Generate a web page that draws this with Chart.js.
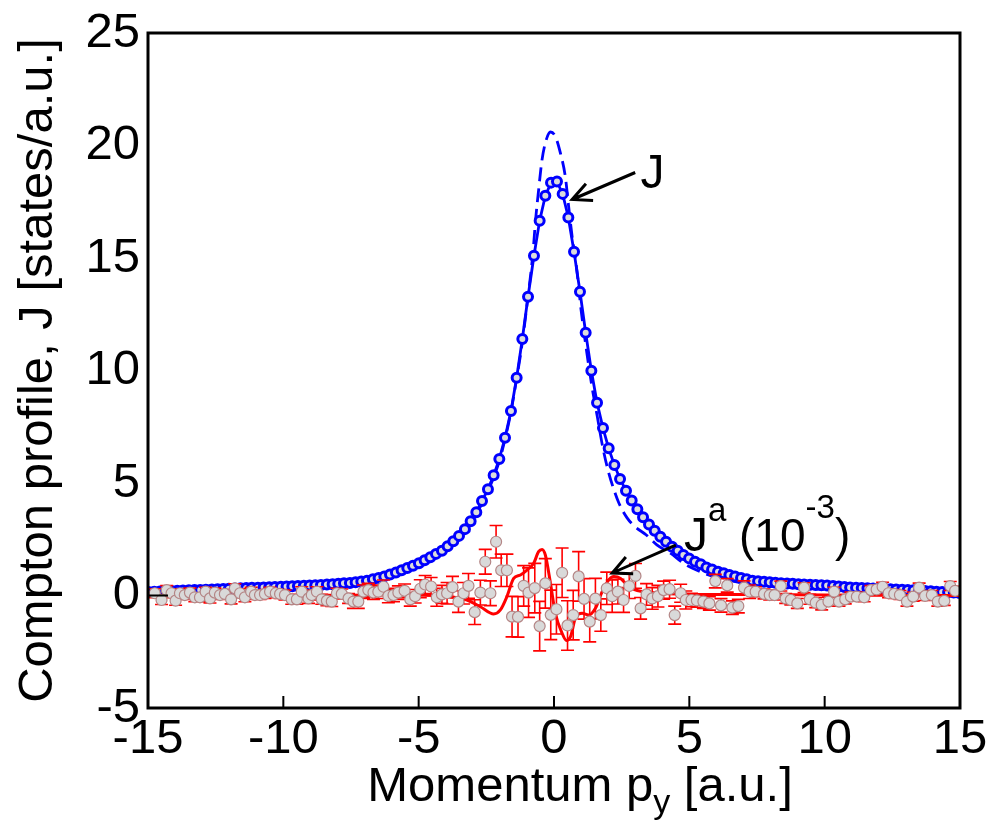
<!DOCTYPE html>
<html>
<head>
<meta charset="utf-8">
<title>Compton profile</title>
<script src="https://cdn.jsdelivr.net/npm/chart.js@4.4.0/dist/chart.umd.min.js"></script>
<style>
  body { margin: 0; background: #fff; }
  #chart { display: block; }
</style>
</head>
<body>
<canvas id="chart" width="1000" height="840"></canvas>
<script>
// momentum grid of the measured profile J (blue circles)
const momentum = [
  -14.98, -14.77, -14.56, -14.34, -14.13, -13.92, -13.71, -13.49, -13.28, -13.07,
  -12.86, -12.64, -12.43, -12.22, -12.01, -11.79, -11.58, -11.37, -11.16, -10.94,
  -10.73, -10.52, -10.31, -10.09, -9.88, -9.67, -9.46, -9.24, -9.03, -8.82,
  -8.61, -8.39, -8.18, -7.97, -7.76, -7.54, -7.33, -7.12, -6.91, -6.69,
  -6.48, -6.27, -6.06, -5.84, -5.63, -5.42, -5.21, -4.99, -4.78, -4.57,
  -4.36, -4.14, -3.93, -3.72, -3.51, -3.29, -3.08, -2.87, -2.66, -2.44,
  -2.23, -2.02, -1.81, -1.59, -1.38, -1.17, -0.96, -0.74, -0.53, -0.32,
  -0.11,
  0.11, 0.32, 0.53, 0.74, 0.96, 1.17, 1.38, 1.59, 1.81, 2.02,
  2.23, 2.44, 2.66, 2.87, 3.08, 3.29, 3.51, 3.72, 3.93, 4.14,
  4.36, 4.57, 4.78, 4.99, 5.21, 5.42, 5.63, 5.84, 6.06, 6.27,
  6.48, 6.69, 6.91, 7.12, 7.33, 7.54, 7.76, 7.97, 8.18, 8.39,
  8.61, 8.82, 9.03, 9.24, 9.46, 9.67, 9.88, 10.09, 10.31, 10.52,
  10.73, 10.94, 11.16, 11.37, 11.58, 11.79, 12.01, 12.22, 12.43, 12.64,
  12.86, 13.07, 13.28, 13.49, 13.71, 13.92, 14.13, 14.34, 14.56, 14.77,
  14.98
];
const profile = [
  0.16, 0.17, 0.18, 0.19, 0.2, 0.21, 0.22, 0.23, 0.24, 0.25,
  0.26, 0.27, 0.28, 0.29, 0.3, 0.31, 0.32, 0.33, 0.34, 0.35,
  0.36, 0.37, 0.38, 0.39, 0.4, 0.41, 0.42, 0.43, 0.44, 0.46,
  0.47, 0.49, 0.5, 0.52, 0.54, 0.56, 0.59, 0.62, 0.66, 0.72,
  0.78, 0.85, 0.93, 1.02, 1.12, 1.22, 1.32, 1.43, 1.57, 1.7,
  1.85, 1.99, 2.19, 2.41, 2.65, 2.95, 3.3, 3.7, 4.2, 4.72,
  5.34, 6.07, 7.01, 8.2, 9.68, 11.4, 13.28, 15.1, 16.66, 17.77,
  18.35,
  18.4, 17.85, 16.8, 15.28, 13.5, 11.68, 9.99, 8.57, 7.44, 6.54,
  5.8, 5.18, 4.66, 4.22, 3.83, 3.48, 3.16, 2.88, 2.61, 2.39,
  2.17, 1.99, 1.8, 1.65, 1.5, 1.39, 1.25, 1.16, 1.06, 0.99,
  0.91, 0.84, 0.78, 0.72, 0.66, 0.63, 0.61, 0.59, 0.57, 0.55,
  0.53, 0.52, 0.5, 0.49, 0.48, 0.47, 0.46, 0.44, 0.42, 0.4,
  0.38, 0.36, 0.35, 0.33, 0.32, 0.31, 0.3, 0.29, 0.28, 0.27,
  0.26, 0.24, 0.23, 0.22, 0.2, 0.19, 0.17, 0.16, 0.14, 0.13,
  0.11
];

// calculated profile (blue dashed)
const theoryX = [
  -15, -14, -13, -12, -11, -10, -9, -8, -7, -6,
  -5.4, -4.8, -4.3, -3.8, -3.4, -3.0, -2.7, -2.4, -2.2, -2.0,
  -1.8, -1.6, -1.4, -1.2, -1.0, -0.78, -0.68, -0.57, -0.45, -0.3,
  -0.13, 0.05, 0.24, 0.42, 0.54, 0.67, 0.83, 1.0, 1.2, 1.4,
  1.6, 1.8, 2.0, 2.2, 2.4, 2.7, 3.0, 3.4, 3.8, 4.3,
  4.8, 5.4, 6.0, 7.0, 8.0, 9.0, 10, 11, 12, 13,
  14, 15
];
const theoryJ = [
  0.15, 0.2, 0.24, 0.28, 0.32, 0.37, 0.42, 0.49, 0.6, 0.88,
  1.15, 1.5, 1.8, 2.25, 2.7, 3.35, 4.0, 4.75, 5.35, 6.05,
  7.0, 8.1, 9.5, 11.0, 12.9, 15.2, 16.7, 18.0, 19.3, 20.2,
  20.6, 20.4, 19.65, 18.6, 17.3, 15.95, 14.6, 12.7, 10.9, 9.3,
  7.95, 6.6, 5.55, 4.75, 4.1, 3.45, 3.05, 2.7, 2.25, 1.88,
  1.42, 1.06, 0.8, 0.55, 0.42, 0.34, 0.27, 0.21, 0.16, 0.11,
  0.06, 0.02
];

// measured anisotropy J^a (x10^-3) with error bars
const anisoX = [
  -14.75, -14.5, -14.31, -14.13, -13.98, -13.82, -13.64, -13.45, -13.27, -13.08,
  -12.87, -12.71, -12.53, -12.34, -12.16, -11.93, -11.79, -11.6, -11.42, -11.19,
  -11.05, -10.86, -10.68, -10.49, -10.28, -10.12, -9.94, -9.69, -9.5, -9.32,
  -9.07, -8.95, -8.76, -8.58, -8.39, -8.21, -8.02, -7.84,
  -7.59, -7.41, -7.23, -7.04, -6.86, -6.67, -6.49, -6.3, -6.12, -5.93,
  -5.75, -5.52, -5.31, -5.13, -4.94, -4.76, -4.54, -4.33, -4.14, -3.95,
  -3.75, -3.53, -3.34, -3.16, -2.93, -2.72, -2.54, -2.35, -2.14, -1.95,
  -1.74, -1.55, -1.33, -1.12, -0.94, -0.71, -0.53, -0.32, -0.12,
  0.09, 0.3, 0.5, 0.71, 0.91, 1.11, 1.32, 1.53, 1.73, 1.95,
  2.15, 2.36, 2.57, 2.78, 3.01, 3.2, 3.42, 3.63, 3.84, 4.05,
  4.27, 4.46, 4.68, 4.87, 5.08, 5.28, 5.52, 5.74, 5.96, 6.17,
  6.4, 6.59, 6.81, 7.02, 7.23, 7.45,
  7.76, 7.97, 8.15, 8.38, 8.56, 8.75, 8.99, 9.24, 9.45, 9.67,
  9.89, 10.14, 10.35, 10.53, 10.76, 10.97, 11.19, 11.46, 11.71, 11.92,
  12.14, 12.36, 12.57, 12.78, 13.04, 13.27, 13.49, 13.71, 13.96, 14.18,
  14.42, 14.64, 14.82
];
const anisoJ = [
  0.1, -0.2, 0.24, 0.1, -0.23, 0.1, 0.02, 0.13, -0.08, -0.08,
  0.17, -0.13, 0.13, 0.02, 0.07, -0.17, 0.32, 0.1, -0.08, 0.17,
  0.02, 0.02, 0.07, 0.17, 0.1, 0.07, 0.02, -0.17, -0.17, 0.17,
  -0.13, 0.02, 0.17, -0.17, -0.23, -0.27, 0.1, 0.07,
  -0.13, -0.27, -0.27, 0.17, 0.24, 0.13, 0.17, 0.39, -0.02, 0.02,
  0.13, 0.21, -0.17, -0.03, 0.3, 0.49, 0.4, -0.08, 0.05, 0.1,
  0.37, -0.27, 0.1, 0.43, -0.74, 0.13, 1.5, 0.1, 2.39, 1.12,
  1.12, -0.94, -0.95, 0.43, 0.13, 0.33, -1.36, 0.54, -0.86,
  -0.61, 1.01, -1.33, -0.87, 0.85, -0.15, -1.16, -0.14, -0.87, 0.32,
  -0.03, 0.17, -0.2, 0.42, 0.87, -0.57, 0.05, -0.13, -0.03, 0.24,
  0.28, -0.87, 0.1, -0.2, -0.2, -0.22, -0.27, -0.35, 0.64, -0.44,
  0.45, -0.54, -0.47, 0.35, 0.17, 0.17,
  0.07, 0.02, 0.02, 0.42, -0.13, -0.2, -0.35, 0.35, -0.17, -0.32,
  -0.42, -0.27, 0.17, -0.27, -0.17, -0.05, -0.05, -0.08, 0.24, 0.27,
  0.39, 0.1, 0.07, 0.02, -0.27, -0.05, 0.35, -0.02, 0.02, -0.27,
  -0.24, 0.42, 0.21
];
const anisoErr = [
  0.2, 0.2, 0.2, 0.2, 0.2, 0.2, 0.2, 0.2, 0.2, 0.2,
  0.2, 0.2, 0.2, 0.2, 0.2, 0.2, 0.2, 0.2, 0.2, 0.2,
  0.2, 0.2, 0.2, 0.2, 0.2, 0.2, 0.22, 0.22, 0.22, 0.22,
  0.22, 0.22, 0.22, 0.22, 0.22, 0.22, 0.22, 0.22,
  0.22, 0.3, 0.3, 0.3, 0.3, 0.3, 0.3, 0.3, 0.3, 0.3,
  0.3, 0.3, 0.3, 0.3, 0.4, 0.4, 0.4, 0.4, 0.4, 0.48,
  0.48, 0.48, 0.48, 0.55, 0.55, 0.55, 0.55, 0.55, 0.72, 0.72,
  0.72, 0.9, 0.9, 0.9, 1.1, 1.1, 1.1, 1.1, 1.1,
  1.1, 1.1, 1.1, 1.1, 1.1, 0.9, 0.9, 0.9, 0.72, 0.72,
  0.72, 0.55, 0.55, 0.55, 0.55, 0.48, 0.48, 0.48, 0.48, 0.4,
  0.4, 0.4, 0.4, 0.4, 0.3, 0.3, 0.3, 0.3, 0.3, 0.3,
  0.3, 0.3, 0.3, 0.3, 0.3, 0.22,
  0.22, 0.22, 0.22, 0.22, 0.22, 0.22, 0.22, 0.22, 0.22, 0.22,
  0.22, 0.2, 0.2, 0.2, 0.2, 0.2, 0.2, 0.2, 0.2, 0.2,
  0.2, 0.2, 0.2, 0.2, 0.2, 0.2, 0.2, 0.2, 0.2, 0.2,
  0.2, 0.2, 0.2
];

// calculated anisotropy (red solid)
const anisoTheoryX = [
  -15, -10, -6, -4.5, -3.83, -3.22, -2.72, -2.23, -1.98, -1.74,
  -1.49, -1.24, -1.0, -0.75, -0.57, -0.44, -0.32, -0.13, 0.05, 0.3,
  0.46, 0.61, 0.79, 1.04, 1.28, 1.53, 1.78, 2.02, 2.21, 2.46,
  2.7, 2.95, 3.32, 3.94, 5, 7, 10, 15
];
const anisoTheoryJ = [
  0, 0, 0.02, 0, -0.05, -0.2, -0.5, -0.82, -0.64, -0.05,
  0.76, 0.91, 1.13, 1.43, 1.95, 2.05, 1.8, 0.54, -0.79, -1.68,
  -2.0, -1.83, -1.01, -0.79, -0.87, -0.57, 0.17, 0.69, 0.84, 0.76,
  0.47, 0.27, 0.17, 0.1, 0.05, 0.05, 0.02, 0
];

const xTicks = [-15, -10, -5, 0, 5, 10, 15];
const yTicks = [-5, 0, 5, 10, 15, 20, 25];

const FONT = "'Liberation Sans', Arial, sans-serif";

function pts(xs, ys) {
  return xs.map((v, i) => ({ x: v, y: ys[i] }));
}

// error bars, drawn just before the J^a points
const errorBars = {
  id: 'errorBars',
  beforeDatasetDraw(chart, args) {
    if (args.index !== 1) return;
    const { ctx, chartArea, scales: { x, y } } = chart;
    ctx.save();
    ctx.beginPath();
    ctx.rect(chartArea.left, chartArea.top, chartArea.width, chartArea.height);
    ctx.clip();
    ctx.strokeStyle = '#ff0000';
    ctx.lineWidth = 1.6;
    ctx.beginPath();
    anisoX.forEach((v, i) => {
      const px = x.getPixelForValue(v);
      const top = y.getPixelForValue(anisoJ[i] + anisoErr[i]);
      const bot = y.getPixelForValue(anisoJ[i] - anisoErr[i]);
      ctx.moveTo(px, top); ctx.lineTo(px, bot);
      ctx.moveTo(px - 6.5, top); ctx.lineTo(px + 6.5, top);
      ctx.moveTo(px - 6.5, bot); ctx.lineTo(px + 6.5, bot);
    });
    ctx.stroke();
    ctx.restore();
  }
};

function arrow(ctx, x1, y1, x2, y2) {
  const a = Math.atan2(y2 - y1, x2 - x1);
  const len = 21, spread = 0.45;
  ctx.beginPath();
  ctx.moveTo(x1, y1); ctx.lineTo(x2, y2);
  ctx.moveTo(x2 - len * Math.cos(a - spread), y2 - len * Math.sin(a - spread));
  ctx.lineTo(x2, y2);
  ctx.lineTo(x2 - len * Math.cos(a + spread), y2 - len * Math.sin(a + spread));
  ctx.stroke();
}

// frame, inner ticks, axis titles and the two labels
const decorations = {
  id: 'decorations',
  afterDraw(chart) {
    const { ctx, chartArea: ca, scales: { x, y } } = chart;
    ctx.save();
    ctx.strokeStyle = '#000';
    ctx.lineWidth = 3;
    ctx.strokeRect(ca.left, ca.top, ca.width, ca.height);
    ctx.lineWidth = 2;
    ctx.beginPath();
    xTicks.slice(1, -1).forEach(t => {
      const px = x.getPixelForValue(t);
      ctx.moveTo(px, ca.bottom); ctx.lineTo(px, ca.bottom - 12);
    });
    const y0 = y.getPixelForValue(0);
    ctx.moveTo(ca.left, y0); ctx.lineTo(ca.left + 20, y0);
    ctx.stroke();

    ctx.fillStyle = '#000';
    ctx.textBaseline = 'alphabetic';

    // y title
    ctx.save();
    ctx.translate(52, (ca.top + ca.bottom) / 2);
    ctx.rotate(-Math.PI / 2);
    ctx.font = '49px ' + FONT;
    ctx.textAlign = 'center';
    ctx.fillText('Compton profile, J [states/a.u.]', 0, 0);
    ctx.restore();

    // x title with subscript
    ctx.textAlign = 'left';
    const big = '49px ' + FONT, small = '34px ' + FONT;
    ctx.font = big;
    const w1 = ctx.measureText('Momentum p').width;
    const w3 = ctx.measureText(' [a.u.]').width;
    ctx.font = small;
    const w2 = ctx.measureText('y').width;
    let tx = (ca.left + ca.right) / 2 + 26 - (w1 + w2 + w3) / 2;
    const base = 801;
    ctx.font = big; ctx.fillText('Momentum p', tx, base); tx += w1;
    ctx.font = small; ctx.fillText('y', tx, base + 12); tx += w2;
    ctx.font = big; ctx.fillText(' [a.u.]', tx, base);

    // J label and arrow
    ctx.lineWidth = 3;
    ctx.font = '48px ' + FONT;
    ctx.fillText('J', x.getPixelForValue(3.2), y.getPixelForValue(18.1));
    arrow(ctx, x.getPixelForValue(3.0), y.getPixelForValue(18.8),
               x.getPixelForValue(0.67), y.getPixelForValue(17.6));

    // J^a (10^-3) label and arrow
    const mid = '46px ' + FONT, sup = '33px ' + FONT;
    let ax = x.getPixelForValue(4.8);
    const ab = y.getPixelForValue(1.98);
    ctx.font = '48px ' + FONT; ctx.fillText('J', ax, ab); ax += ctx.measureText('J').width;
    ctx.font = sup; ctx.fillText('a', ax, ab - 30); ax += ctx.measureText('a').width;
    ctx.font = mid; ctx.fillText(' (10', ax, ab); ax += ctx.measureText(' (10').width;
    ctx.font = sup; ctx.fillText('-3', ax, ab - 33); ax += ctx.measureText('-3').width;
    ctx.font = mid; ctx.fillText(')', ax, ab);
    arrow(ctx, x.getPixelForValue(4.5), y.getPixelForValue(2.24),
               x.getPixelForValue(2.15), y.getPixelForValue(1.0));
    ctx.restore();
  }
};

new Chart(document.getElementById('chart'), {
  type: 'scatter',
  data: {
    datasets: [
      {
        label: 'J^a theory',
        data: pts(anisoTheoryX, anisoTheoryJ),
        showLine: true,
        borderColor: '#ff0000',
        borderWidth: 3,
        pointRadius: 0,
        cubicInterpolationMode: 'monotone',
        order: 1
      },
      {
        label: 'J^a',
        data: pts(anisoX, anisoJ),
        showLine: false,
        pointRadius: 5.5,
        backgroundColor: '#d9d9d9',
        borderColor: '#b48686',
        borderWidth: 1.2,
        order: 0
      },
      {
        label: 'J',
        data: pts(momentum, profile),
        showLine: true,
        borderColor: '#0000ff',
        borderWidth: 2.8,
        pointRadius: 4.5,
        pointBorderWidth: 3,
        pointBorderColor: '#0000ff',
        pointBackgroundColor: '#dcdcdc',
        order: 2
      },
      {
        label: 'J theory',
        data: pts(theoryX, theoryJ),
        showLine: true,
        borderColor: '#0000ff',
        borderWidth: 2.8,
        borderDash: [14, 7],
        pointRadius: 0,
        cubicInterpolationMode: 'monotone',
        order: 3
      }
    ]
  },
  options: {
    responsive: false,
    animation: false,
    layout: { padding: { top: 33, right: 40, left: 0, bottom: 0 } },
    plugins: {
      legend: { display: false },
      tooltip: { enabled: false }
    },
    scales: {
      x: {
        type: 'linear',
        min: -15,
        max: 15,
        afterBuildTicks: s => { s.ticks = xTicks.map(v => ({ value: v })); },
        ticks: { color: '#000', font: { family: FONT, size: 49 }, padding: 2, maxRotation: 0 },
        grid: { display: false, drawTicks: false },
        border: { display: false },
        afterFit: s => { s.height = 132; s.paddingLeft = 0; s.paddingRight = 0; }
      },
      y: {
        type: 'linear',
        min: -5,
        max: 25,
        afterBuildTicks: s => { s.ticks = yTicks.map(v => ({ value: v })); },
        ticks: { color: '#000', font: { family: FONT, size: 49 }, padding: 8 },
        grid: { display: false, drawTicks: false },
        border: { display: false },
        afterFit: s => { s.width = 148; s.paddingTop = 0; s.paddingBottom = 0; }
      }
    }
  },
  plugins: [errorBars, decorations]
});
</script>
</body>
</html>
